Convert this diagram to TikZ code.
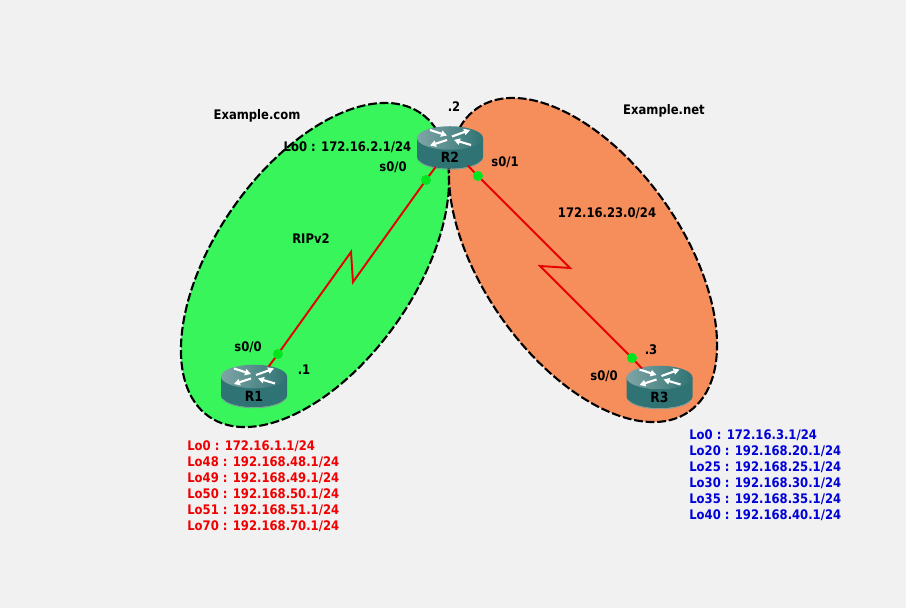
\documentclass[tikz,border=0pt]{standalone}
\usepackage{fontspec}
\setmainfont[FakeStretch=0.88]{DejaVu Sans}
\usepackage{xcolor}
\usetikzlibrary{arrows.meta,shapes.geometric}
\definecolor{bg}{HTML}{F1F1F1}
\definecolor{ripgreen}{HTML}{38F55C}
\definecolor{netorange}{HTML}{F68E5B}
\definecolor{linkred}{HTML}{E60000}
\definecolor{portgreen}{HTML}{00E61E}
\definecolor{routerbody}{HTML}{2F7374}
\definecolor{routertop}{HTML}{7FA5A6}
\definecolor{routerrim}{HTML}{7F9C9C}
\definecolor{lored}{HTML}{F00000}
\definecolor{loblue}{HTML}{0000D8}
\tikzset{
  area/.style={draw=black, line width=1.2pt, dash pattern=on 5pt off 1.6pt},
  link/.style={draw=linkred, line width=1.1pt, line join=miter},
  port/.style={circle, fill=portgreen, inner sep=0pt, minimum size=0.2cm},
  router/.style={ellipse, inner sep=0pt, minimum width=1.32cm, minimum height=0.85cm},
  flow/.style={draw=white, line width=1.2pt, -{Triangle[width=3.6pt,length=3.4pt]}},
  lab/.style={text=black, font=\bfseries\fontsize{7.5}{8}\selectfont, inner sep=0pt},
  rlab/.style={text=black, font=\bfseries\fontsize{8}{8}\selectfont, inner sep=0pt},
  lolist/.style={font=\bfseries\fontsize{7.5}{9.07}\selectfont, align=left, inner sep=0pt, anchor=west}
}
\begin{document}
\begin{tikzpicture}
  \fill[bg] (0,0) rectangle (18.12,12.16);
  \useasboundingbox (0,0) rectangle (18.12,12.16);
  % routing domains
  \draw[area, fill=ripgreen, rotate around={55:(6.30,6.86)}] (6.30,6.86) ellipse (3.7 and 2.0);
  \draw[area, fill=netorange, rotate around={-55:(11.66,6.96)}] (11.66,6.96) ellipse (3.7 and 2.0);
  % routers
  \foreach \n/\x/\y in {R1/5.08/4.44,R2/9.0/9.21,R3/13.19/4.42}{
    \begin{scope}[shift={(\x,\y)}]
      \fill[routerbody] (-0.66,0.19) -- (-0.66,-0.19) arc (180:360:0.66 and 0.235) -- (0.66,0.19) -- cycle;
      \draw[routerrim, line width=0.5pt] (-0.62,-0.27) arc (197:343:0.65 and 0.235);
      \shade[left color=routertop, right color=routerbody] (0,0.19) ellipse (0.66 and 0.235);
      \draw[flow] (-0.40,0.35) -- (-0.06,0.24);
      \draw[flow] (-0.06,0.15) -- (-0.40,0.04);
      \draw[flow] (0.04,0.22) -- (0.40,0.35);
      \draw[flow] (0.42,0.05) -- (0.08,0.15);
    \end{scope}
    \node[router, label={[rlab,yshift=-0.2cm]center:\n}] (\n) at (\x,\y) {};
  }
  % serial links
  \coordinate (p10) at (5.56,5.08);
  \coordinate (p20) at (8.52,8.56);
  \coordinate (p21) at (9.56,8.64);
  \coordinate (p30) at (12.64,5.0);
  \coordinate (z1) at (7.02,7.12);
  \coordinate (z2) at (7.06,6.52);
  \coordinate (z3) at (11.40,6.80);
  \coordinate (z4) at (10.80,6.84);
  \draw[link] (R1) -- (p10) -- (z1) -- (z2) -- (p20) -- (R2);
  \draw[link] (R2) -- (p21) -- (z3) -- (z4) -- (p30) -- (R3);
  \foreach \p in {p10,p20,p21,p30}
    \node[port] (dot\p) at (\p) {};
  % labels
  \node[lab] (dom1) at (5.14,9.84) {Example.com};
  \node[lab] (dom2) at (13.28,9.94) {Example.net};
  \node[lab] (ip2) at (9.08,10.02) {.2};
  \node[lab] (lo2) at (6.95,9.22) {Lo0 : 172.16.2.1/24};
  \node[lab] (s20) at (7.86,8.82) {s0/0};
  \node[lab] (s21) at (10.10,8.92) {s0/1};
  \node[lab] (rip) at (6.22,7.38) {RIPv2};
  \node[lab] (net) at (12.14,7.90) {172.16.23.0/24};
  \node[lab] (s10) at (4.96,5.22) {s0/0};
  \node[lab] (ip1) at (6.08,4.76) {.1};
  \node[lab] (ip3) at (13.02,5.16) {.3};
  \node[lab] (s30) at (12.08,4.64) {s0/0};
  \node[lolist, text=lored] (lo1) at (3.74,2.44) {Lo0 : 172.16.1.1/24\\Lo48 : 192.168.48.1/24\\Lo49 : 192.168.49.1/24\\Lo50 : 192.168.50.1/24\\Lo51 : 192.168.51.1/24\\Lo70 : 192.168.70.1/24};
  \node[lolist, text=loblue] (lo3) at (13.78,2.66) {Lo0 : 172.16.3.1/24\\Lo20 : 192.168.20.1/24\\Lo25 : 192.168.25.1/24\\Lo30 : 192.168.30.1/24\\Lo35 : 192.168.35.1/24\\Lo40 : 192.168.40.1/24};
\end{tikzpicture}
\end{document}
